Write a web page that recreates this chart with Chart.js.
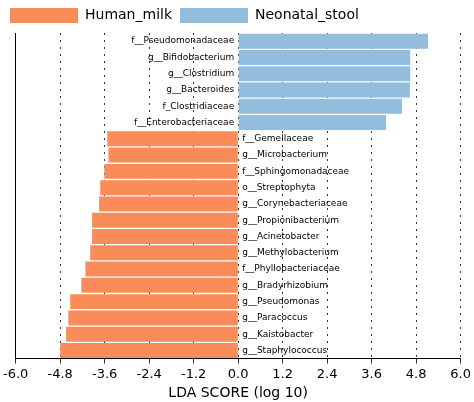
<!DOCTYPE html>
<html>
<head>
<meta charset="utf-8">
<script src="https://cdn.jsdelivr.net/npm/chart.js@4"></script>
<style>body{margin:0;background:#fff}#wrap{width:474px;height:402px}</style>
</head>
<body>
<div id="wrap"><canvas id="c"></canvas></div>
<script>
var taxa = ['f__Pseudomonadaceae','g__Bifidobacterium','g__Clostridium','g__Bacteroides','f_Clostridiaceae','f__Enterobacteriaceae',
  'f__Gemellaceae','g__Microbacterium','f__Sphingomonadaceae','o__Streptophyta','g__Corynebacteriaceae','g__Propionibacterium',
  'g__Acinetobacter','g__Methylobacterium','f__Phyllobacteriaceae','g__Bradyrhizobium','g__Pseudomonas','g__Paracoccus',
  'g__Kaistobacter','g__Staphylococcus'];
var stool = [5.12,4.64,4.64,4.63,4.42,3.99,null,null,null,null,null,null,null,null,null,null,null,null,null,null];
var milk = [null,null,null,null,null,null,-3.53,-3.5,-3.61,-3.72,-3.75,-3.94,-3.94,-3.99,-4.12,-4.23,-4.53,-4.58,-4.64,-4.8];

// names drawn next to the zero line
var namePlugin = {
  id: 'names',
  afterDatasetsDraw: function(chart){
    var ctx = chart.ctx, x0 = chart.scales.x.getPixelForValue(0);
    ctx.save();
    ctx.font = '9px "DejaVu Sans"';
    ctx.fillStyle = '#000';
    ctx.textBaseline = 'middle';
    for (var i = 0; i < taxa.length; i++) {
      var y = chart.scales.y.getPixelForValue(i);
      if (stool[i] != null) { ctx.textAlign = 'right'; ctx.fillText(taxa[i], x0 - 4, y); }
      else { ctx.textAlign = 'left'; ctx.fillText(taxa[i], x0 + 4, y); }
    }
    ctx.restore();
  }
};

new Chart(document.getElementById('c'), {
  type: 'bar',
  data: {
    labels: taxa,
    datasets: [
      {label: 'Human_milk', data: milk, backgroundColor: '#fa8c5a', barPercentage: 0.92, categoryPercentage: 1},
      {label: 'Neonatal_stool', data: stool, backgroundColor: '#93bddc', barPercentage: 0.92, categoryPercentage: 1}
    ]
  },
  options: {
    indexAxis: 'y',
    responsive: true,
    maintainAspectRatio: false,
    animation: false,
    layout: {padding: {left: 2, right: 10, top: 0}},
    plugins: {
      tooltip: {enabled: false},
      legend: {
        position: 'top', align: 'start',
        labels: {boxWidth: 68, boxHeight: 15, padding: 8, color: '#000', font: {size: 14, family: 'DejaVu Sans'}}
      }
    },
    scales: {
      x: {
        stacked: true, min: -6, max: 6,
        ticks: {stepSize: 1.2, color: '#000', font: {size: 13, family: 'DejaVu Sans'},
          callback: function(v){ return (Math.round(v*10)/10).toFixed(1); }},
        grid: {color: '#000', lineWidth: 0.8, tickLength: 5, drawTicks: true},
        border: {dash: [2, 5], color: '#000'},
        title: {display: true, text: 'LDA SCORE (log 10)', color: '#000', font: {size: 14, family: 'DejaVu Sans'}, padding: 0}
      },
      y: {
        stacked: true,
        ticks: {display: false},
        grid: {display: false},
        border: {color: '#000'}
      }
    }
  },
  plugins: [namePlugin]
});
</script>
</body>
</html>
